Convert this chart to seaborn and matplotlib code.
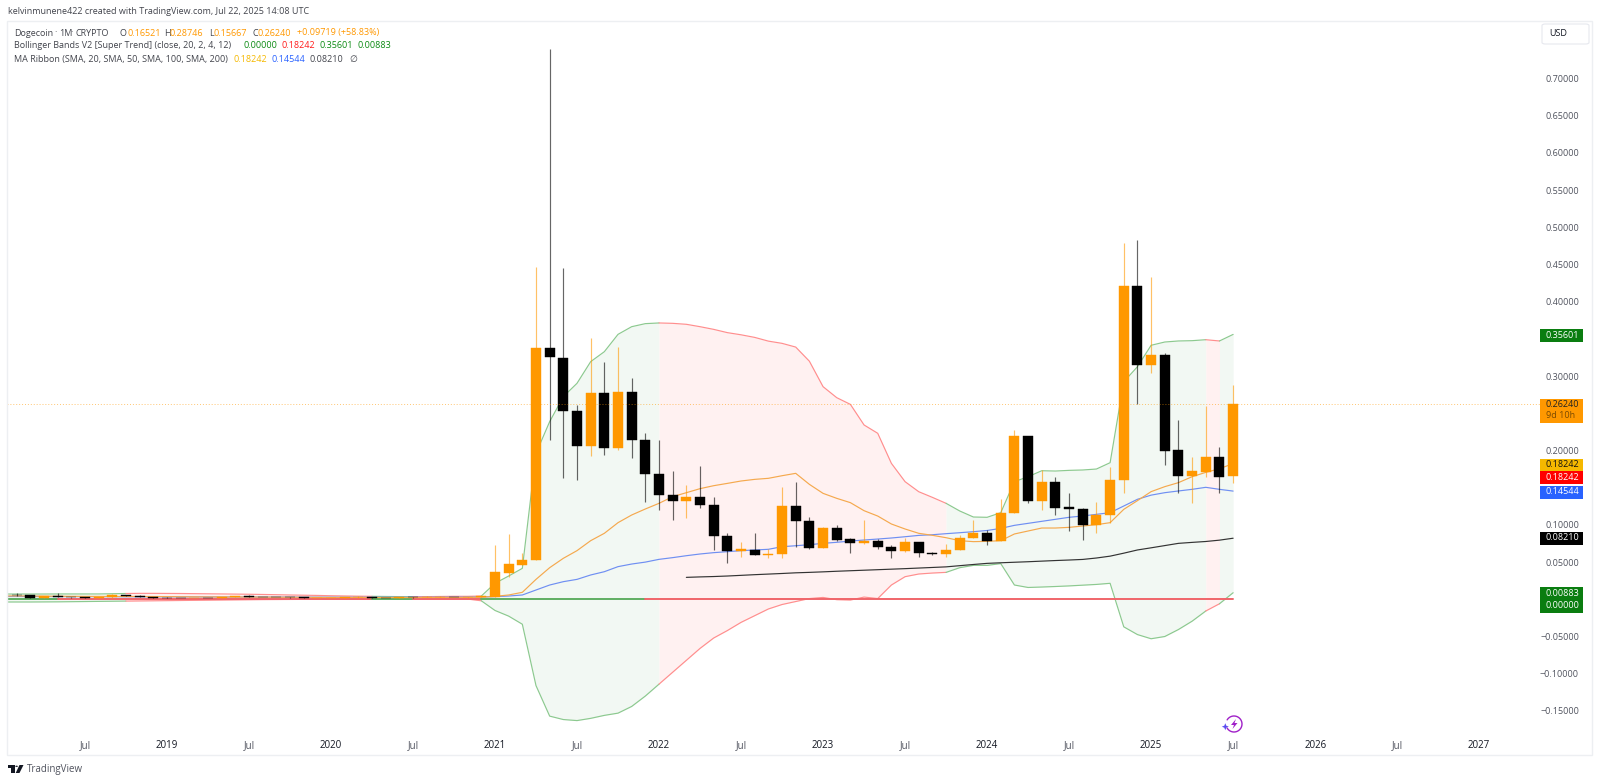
import numpy as np
import pandas as pd
import matplotlib
matplotlib.use("Agg")
import matplotlib.pyplot as plt
from matplotlib.patches import Rectangle, Polygon, Circle, FancyBboxPatch
import seaborn as sns

# ---- data: month index 0 = Jan 2021 -------------------------------------
months = list(range(-36, 55))

opens = [.0061,.0060,.0058,.0023,.0046,.0032,.0025,.0024,.0025,.0056,.0049,.0034,.0024,.0020,.0019,.0022,.0020,.0030,.0046,.0033,.0030,.0026,.0025,.0020,.0020,.0020,.0026,.0026,.0019,.0017,.0026,.0025,.0033,.0034,.0026,.0026,
         .0026,.0358,.0460,.0528,.3378,.3243,.2531,.2065,.2773,.2033,
         .2791,.2141,.1684,.1402,.1326,.1371,.1267,.0851,.0645,.0667,
         .0600,.0604,.1258,.1057,.0689,.0953,.0806,.0761,.0783,.0707,
         .0653,.0770,.0627,.0613,.0667,.0824,.0896,.0784,.1161,.2195,
         .1317,.1581,.1236,.1213,.0998,.1128,.1603,.4211,.3145,.3283,
         .2006,.1652,.1711,.1917,.16521]
closes = [.0060,.0058,.0023,.0046,.0032,.0025,.0024,.0025,.0056,.0049,.0034,.0024,.0020,.0019,.0022,.0020,.0030,.0046,.0033,.0030,.0026,.0025,.0020,.0020,.0020,.0026,.0026,.0019,.0017,.0026,.0025,.0033,.0034,.0026,.0026,.0047,
          .0367,.0470,.0533,.3378,.3252,.2526,.2065,.2773,.2033,.2791,
          .2141,.1684,.1402,.1326,.1371,.1267,.0851,.0654,.0672,.0600,
          .0609,.1258,.1057,.0685,.0953,.0797,.0761,.0783,.0707,.0653,
          .0770,.0627,.0613,.0667,.0824,.0887,.0784,.1164,.2195,.1317,
          .1581,.1232,.1213,.0998,.1133,.1603,.4211,.3145,.3283,.1997,
          .1652,.1720,.1917,.1648,.26240]
highs = [.0065,.0080,.0062,.0050,.0080,.0036,.0030,.0030,.0075,.0062,.0052,.0036,.0026,.0022,.0024,.0024,.0036,.0048,.0052,.0036,.0032,.0030,.0026,.0023,.0024,.0030,.0040,.0028,.0021,.0036,.0030,.0040,.0040,.0036,.0030,.0050,
         .0730,.0878,.0618,.4470,.7400,.4450,.2607,.3508,.3190,.3390,
         .2969,.2231,.2141,.1724,.1532,.1792,.1371,.0887,.0766,.0887,
         .0676,.1509,.1581,.1110,.0976,.0999,.0819,.1066,.0810,.0730,
         .0819,.0770,.0636,.0743,.0864,.1066,.0931,.1344,.2275,.2195,
         .1738,.1648,.1424,.1222,.1312,.1783,.4784,.4829,.4336,.3315,
         .2409,.1917,.2598,.2047,.28746]
lows = [.0055,.0050,.0020,.0020,.0030,.0022,.0021,.0021,.0023,.0042,.0030,.0020,.0018,.0017,.0018,.0019,.0020,.0028,.0030,.0028,.0025,.0024,.0019,.0019,.0019,.0018,.0024,.0012,.0016,.0017,.0024,.0025,.0030,.0025,.0024,.0025,
        .0026,.0295,.0460,.0528,.2141,.1635,.1600,.1930,.1935,.2010,
        .1904,.1312,.1200,.1066,.1097,.1223,.0663,.0483,.0573,.0600,
        .0560,.0551,.0707,.0672,.0689,.0784,.0627,.0747,.0680,.0560,
        .0636,.0573,.0591,.0573,.0658,.0824,.0734,.0784,.1161,.1290,
        .1200,.1133,.0918,.0797,.0887,.1021,.1424,.2619,.3046,.1809,
        .1433,.1299,.1639,.1430,.15667]

upper = [.0071,.0071,.0071,.0071,.0072,.0072,.0072,.0072,.0075,.0078,.0080,.0080,.0079,.0078,.0076,.0074,.0072,.0070,.0068,.0065,.0062,.0058,.0055,.0052,.0048,.0045,.0042,.0040,.0038,.0036,.0035,.0036,.0038,.0040,.0040,.0044,
         .0215,.0313,.0416,.1962,.2388,.2724,.2903,.3194,.3328,.3561,.3664,.3705,.3714,.3709,.3696,.3664,.3628,.3584,
         .3555,.3520,.3470,.3440,.3390,.3200,.2858,.2710,.2620,.2343,.2231,.1827,.1581,.1446,.1370,.1290,.1187,.1106,.1102,.1164,
         .1581,.1648,.1728,.1724,.1733,.1738,.1751,.1836,.2924,.3126,.3414,.3458,.3472,.3476,.3489,.3472,.35601]
basis = [.0045,.0045,.0044,.0042,.0041,.0040,.0039,.0039,.0038,.0038,.0038,.0037,.0036,.0034,.0033,.0032,.0031,.0031,.0030,.0029,.0028,.0028,.0027,.0026,.0025,.0025,.0025,.0025,.0024,.0024,.0024,.0025,.0025,.0026,.0026,.0028,
         .0040,.0058,.0094,.0268,.0425,.0551,.0654,.0788,.0887,.1030,.1133,.1214,.1290,.1380,.1433,.1487,.1527,.1558,
         .1590,.1612,.1626,.1661,.1693,.1545,.1424,.1357,.1299,.1191,.1119,.1012,.0945,.0887,.0860,.0828,.0788,.0775,.0779,.0788,
         .0878,.0918,.0958,.0958,.0967,.0985,.1003,.1030,.1209,.1326,.1447,.1514,.1568,.1648,.1706,.1755,.18242]
lower = [-.0036,-.0036,-.0036,-.0035,-.0034,-.0032,-.0030,-.0028,-.0026,-.0024,-.0022,-.0020,-.0018,-.0016,-.0014,-.0012,-.0010,-.0008,-.0006,-.0004,-.0003,-.0002,-.0001,.0000,.0001,.0001,.0002,.0002,.0003,.0004,.0005,.0004,.0004,.0003,.0003,-.0020,
         -.0150,-.0226,-.0335,-.1160,-.1570,-.1616,-.1630,-.1600,-.1560,-.1530,-.1440,-.1300,-.1140,-.0980,-.0820,-.0660,-.0520,-.0420,
         -.0310,-.0220,-.0130,-.0070,-.0030,.0010,.0025,-.0005,-.0010,.0030,.0010,.0192,.0304,.0340,.0353,.0362,.0425,.0456,.0456,.0480,
         .0192,.0159,.0165,.0172,.0180,.0190,.0200,.0215,-.0370,-.0474,-.0530,-.0500,-.0406,-.0294,-.0157,-.0060,.00883]
sma50 = [.0038,.0038,.0038,.0037,.0037,.0036,.0036,.0035,.0035,.0034,.0034,.0034,.0033,.0033,.0032,.0032,.0031,.0031,.0031,.0030,.0030,.0030,.0029,.0029,.0029,.0028,.0028,.0028,.0028,.0028,.0028,.0028,.0029,.0029,.0030,.0032,
         .0036,.0044,.0058,.0125,.0192,.0237,.0268,.0327,.0371,.0439,.0474,.0500,.0537,.0560,.0586,.0609,.0627,.0640,
         .0654,.0663,.0672,.0707,.0720,.0734,.0752,.0766,.0783,.0797,.0810,.0824,.0841,.0859,.0868,.0882,.0895,.0909,.0925,.0953,
         .0994,.1021,.1048,.1075,.1102,.1120,.1142,.1164,.1254,.1344,.1400,.1433,.1456,.1478,.1505,.1478,.14544]
sma100_months = list(range(14, 55))
sma100 = [.0295,.0301,.0306,.0313,.0322,.0331,.0339,.0347,.0356,.0362,.0369,.0377,.0384,.0391,.0398,.0405,.0412,.0420,.0428,.0436,.0452,.0468,.0483,
          .0491,.0498,.0505,.0513,.0521,.0528,.0536,.0555,.0580,.0620,.0663,.0692,.0722,.0752,.0765,.0777,.0795,.0821]

# trend segments: (first month, last month, state)
band_segments = [(-36,-27,"g"),(-27,-9,"r"),(-9,-6,"g"),(-6,-1,"r"),(-1,12,"g"),(12,33,"r"),(33,52,"g"),(52,53,"r"),(53,54,"g")]
zero_segments = [(-36,-32,"g"),(-32,-9,"r"),(-9,-6,"g"),(-6,-1,"r"),(-1,11,"g"),(11,54,"r")]

year_ticks = [-24,-12,0,12,24,36,48,60,72]
year_labels = ["2019","2020","2021","2022","2023","2024","2025","2026","2027"]
jul_ticks = [-30,-18,-6,6,18,30,42,54,66]
price_ticks = [.70,.65,.60,.55,.50,.45,.40,.30,.20,.10,.05,-.05,-.10,-.15]

box_texts = ["0.35601","0.26240","0.18242","0.18242","0.14544","0.08210","0.00883","0.00000"]
box_faces = ["#0A7D10","#FF9800","#F5B800","#FF0000","#2962FF","#000000","#0A7D10","#0A7D10"]
box_inks = ["white","#222222","#111111","white","white","white","white","white"]
box_centers_px = [335.5,405,465,477.7,492,538.5,593.5,606.5]

# ---- style --------------------------------------------------------------
sns.set_theme(style="white")
plt.rcParams["font.family"] = ["Open Sans", "DejaVu Sans"]
W, H = 1600, 783
FS = 6.5
fig = plt.figure(figsize=(W/100, H/100), dpi=100, facecolor="white")

PX_LEFT, PX_RIGHT, PX_TOP, PX_BOTTOM = 7, 1540, 22, 731
ax = fig.add_axes([PX_LEFT/W, 1-PX_BOTTOM/H, (PX_RIGHT-PX_LEFT)/W, (PX_BOTTOM-PX_TOP)/H])
ax.set_facecolor("white")
ax.set_xlim(-35.7, 76.45)
ax.set_ylim(-0.1770, 0.7759)
for s in ax.spines.values():
    s.set_visible(False)

ORANGE = "#FF9800"
COL = {"g": "#8CC98F", "r": "#FF8E8E"}
FILL = {"g": "#F2F8F3", "r": "#FFF1F1"}
ZERO = {"g": "#5FAE63", "r": "#F0656A"}
LW = 0.85

m = np.array(months)
up, lo = np.array(upper), np.array(lower)
for a, b, st in band_segments:
    sel = (m >= a) & (m <= b)
    ax.fill_between(m[sel], lo[sel], up[sel], color=FILL[st], lw=0, zorder=1)
    for arr in (up, lo):
        sns.lineplot(x=m[sel], y=arr[sel], color=COL[st], lw=LW, ax=ax, estimator=None,
                     sort=False, legend=False, zorder=2)
for a, b, st in zero_segments:
    sns.lineplot(x=[a, b], y=[0.0, 0.0], color=ZERO[st], lw=1.4, ax=ax, estimator=None,
                 sort=False, legend=False, zorder=2)

sns.lineplot(x=months, y=sma50, color="#6F8FF2", lw=LW, ax=ax, estimator=None, legend=False, zorder=2.2)
sns.lineplot(x=months, y=basis, color="#F5A94E", lw=LW, ax=ax, estimator=None, legend=False, zorder=2.3)
sns.lineplot(x=sma100_months, y=sma100, color="#333333", lw=LW, ax=ax, estimator=None, legend=False, zorder=2.4)

# candles
o, c, h, l = map(np.array, (opens, closes, highs, lows))
is_up = c >= o
for mask, col, wa in ((is_up, ORANGE, 0.6), (~is_up, "#000000", 0.6)):
    ax.vlines(m[mask], l[mask], h[mask], color=col, lw=0.85, alpha=wa, zorder=3)
    ax.bar(m[mask], np.abs(c-o)[mask], bottom=np.minimum(o, c)[mask], width=0.73,
           color=col, edgecolor=col, linewidth=0.3, zorder=4)

ax.axhline(closes[-1], color=ORANGE, lw=0.7, ls=(0, (1, 2)), alpha=0.55, zorder=5)

# axes text
ax.yaxis.tick_right()
ax.set_yticks(price_ticks)
ax.set_yticklabels([f"{v:.5f}".replace("-", "\u2212") for v in price_ticks], fontsize=FS, color="#50535E", ha="right")
ax.tick_params(axis="y", length=0, pad=28)
ax.set_xticks(year_ticks + jul_ticks)
ax.set_xticklabels(year_labels + ["Jul"]*len(jul_ticks), fontsize=7)
for lab, pos in zip(ax.get_xticklabels(), year_ticks + jul_ticks):
    lab.set_color("#131722" if pos in year_ticks else "#50535E")
ax.tick_params(axis="x", length=0, pad=6.5)
ax.grid(False)

# figure helpers in pixels
def fx(x): return x/W
def fy(y): return 1-y/H
def px_rect(x0, y0, x1, y1, **kw):
    fig.add_artist(Rectangle((fx(x0), fy(y1)), (x1-x0)/W, (y1-y0)/H, transform=fig.transFigure, **kw))
def px_text(x, y, s, **kw):
    kw.setdefault("fontsize", FS)
    kw.setdefault("va", "center")
    fig.text(fx(x), fy(y), s, **kw)

# pane frame
px_rect(7, 20.5, 1592, 755, fill=False, edgecolor="#EDEFF2", lw=1.0)

# price boxes
for t, f, ink, cy in zip(box_texts, box_faces, box_inks, box_centers_px):
    if t == "0.26240":
        px_rect(1540, 398.5, 1583, 422.5, facecolor=f, edgecolor="none", zorder=6)
        px_text(1546, 404.5, t, color=ink, zorder=7)
        px_text(1546, 416, "9d 10h", color="#7A4A00", zorder=7)
    else:
        px_rect(1540, cy-6.5, 1583, cy+6.5, facecolor=f, edgecolor="none", zorder=6)
        px_text(1546, cy-0.5, t, color=ink, zorder=7, fontweight="medium")

# USD button
fig.add_artist(FancyBboxPatch((fx(1542), fy(44)), 47/W, 20/H, boxstyle="round,pad=0,rounding_size=0.002",
                              transform=fig.transFigure, fill=False, edgecolor="#E6E8EE", lw=0.8))
px_text(1549, 34, "USD", color="#131722")

# header text
DARK = "#42444C"
px_text(8, 11.5, "kelvinmunene422 created with TradingView.com, Jul 22, 2025 14:08 UTC", color=DARK)
for x, s in [(14,"Dogecoin"),(54.5,"\u00b7"),(59,"1M"),(70.5,"\u00b7"),(75,"CRYPTO")]:
    px_text(x, 33, s, color=DARK)
for x, s, col in [(119,"O",DARK),(127,"0.16521",ORANGE),(164,"H",DARK),(170,"0.28746",ORANGE),
                  (209,"L",DARK),(214,"0.15667",ORANGE),(253,"C",DARK),(258,"0.26240",ORANGE),
                  (297,"+0.09719 (+58.83%)",ORANGE)]:
    px_text(x, 33, s, color=col)
px_text(14, 46, "Bollinger Bands V2 [Super Trend] (close, 20, 2, 4, 12)", color=DARK)
for x, s, col in [(243,"0.00000","#0B8A12"),(281,"0.18242","#FF1A1A"),(320,"0.35601","#0B8A12"),(358,"0.00883","#0B8A12")]:
    px_text(x, 46, s, color=col)
px_text(14, 59.5, "MA Ribbon (SMA, 20, SMA, 50, SMA, 100, SMA, 200)", color=DARK)
for x, s, col in [(233,"0.18242","#F5B800"),(272,"0.14544","#2962FF"),(310,"0.08210",DARK),(349,"\u2205",DARK)]:
    px_text(x, 59.5, s, color=col)

# TradingView mark
px_rect(8, 765, 14.5, 767.5, facecolor="#131722", edgecolor="none")
px_rect(11, 765, 14.5, 773, facecolor="#131722", edgecolor="none")
fig.add_artist(Circle((fx(16.6), fy(766.3)), 1.3/W, transform=fig.transFigure, facecolor="#131722", edgecolor="none"))
fig.add_artist(Polygon([(fx(19.5), fy(765)), (fx(23.5), fy(765)), (fx(19.5), fy(773)), (fx(15.7), fy(773))],
                       transform=fig.transFigure, facecolor="#131722", edgecolor="none"))
px_text(27, 769.5, "TradingView", color="#50535E", fontsize=7.0)

# purple icon
PURPLE = "#A020C8"
ang = np.linspace(-2.6, 2.6, 40)
fig.add_artist(plt.Line2D(fx(1234) + 8*np.cos(ang)/W, fy(724) + 8*np.sin(ang)/H,
                          transform=fig.transFigure, color=PURPLE, lw=1.0))
fig.add_artist(Polygon([(fx(1236), fy(719)), (fx(1231), fy(725)), (fx(1234), fy(725)), (fx(1232.5), fy(729)),
                        (fx(1237.5), fy(723)), (fx(1234.5), fy(723))],
                       transform=fig.transFigure, facecolor=PURPLE, edgecolor="none"))
fig.add_artist(Polygon([(fx(1225.3), fy(723.2)), (fx(1226.3), fy(725.7)), (fx(1228.8), fy(726.7)), (fx(1226.3), fy(727.7)),
                        (fx(1225.3), fy(730.2)), (fx(1224.3), fy(727.7)), (fx(1221.8), fy(726.7)), (fx(1224.3), fy(725.7))],
                       transform=fig.transFigure, facecolor="#5B4DF0", edgecolor="none"))

fig.savefig("out.png", dpi=100, facecolor="white")
